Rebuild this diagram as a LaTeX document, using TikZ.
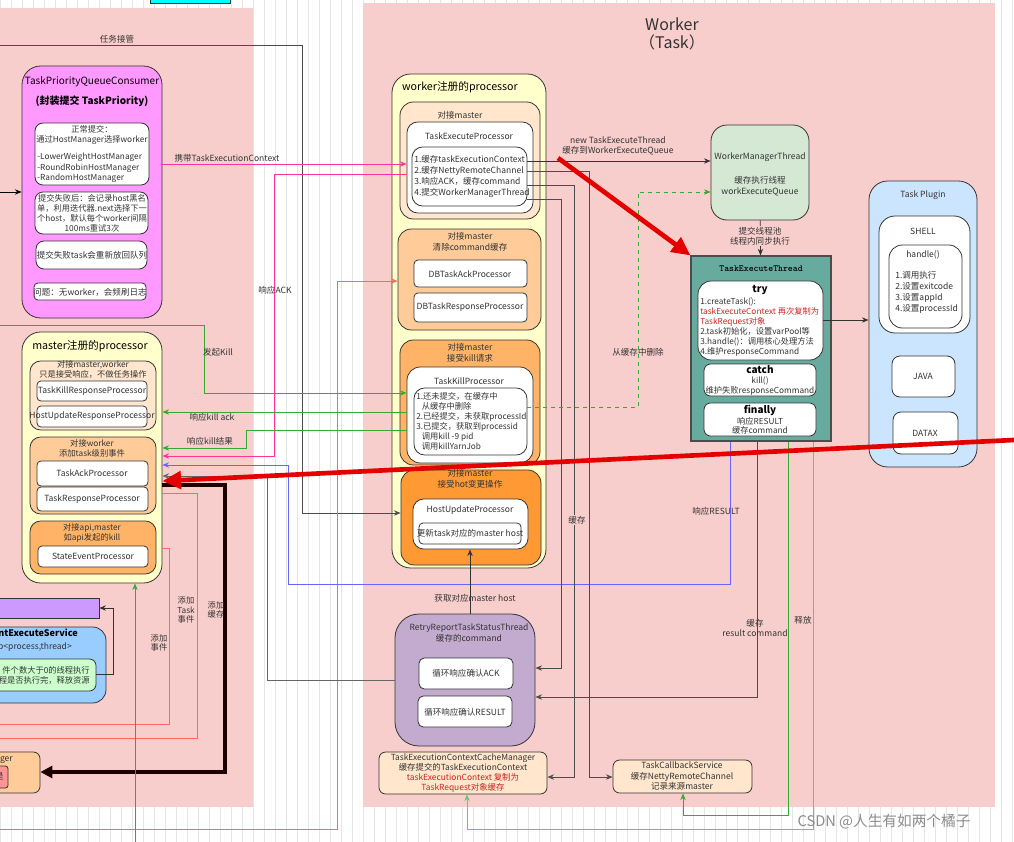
\documentclass[tikz,border=0pt]{standalone}
\usepackage{fontspec}
\setmainfont{Noto Sans CJK SC}
\usetikzlibrary{arrows.meta}
\definecolor{pbg}{HTML}{F8CECC}
\definecolor{mag}{HTML}{FF99FF}
\definecolor{yel}{HTML}{FFFFCC}
\definecolor{pea}{HTML}{FFE6CC}
\definecolor{orA}{HTML}{FFCC99}
\definecolor{orB}{HTML}{FFB366}
\definecolor{orC}{HTML}{FF9933}
\definecolor{grn}{HTML}{D5E8D4}
\definecolor{teal}{HTML}{67AB9F}
\definecolor{lbl}{HTML}{CCE5FF}
\definecolor{pur}{HTML}{C3ABD0}
\definecolor{lav}{HTML}{CC99FF}
\definecolor{skb}{HTML}{99CCFF}
\definecolor{lgr}{HTML}{CCFFCC}
\definecolor{tx}{HTML}{333333}
\definecolor{rl}{HTML}{FF6666}
\definecolor{pl}{HTML}{FF3399}
\definecolor{gl}{HTML}{33AA33}
\definecolor{bl}{HTML}{6666FF}
\definecolor{rt}{HTML}{CC2222}
\definecolor{cy}{HTML}{00FFFF}
\newcommand\bx[6]{\node[#6, minimum width={(#4-#2)*0.75pt}, minimum height={(#5-#3)*0.75pt}, inner sep=0pt] (#1) at ({(#2+#4)/2},{(#3+#5)/2}) {};}
\begin{document}
\begin{tikzpicture}[x=0.75pt,y=-0.75pt,
  font=\fontsize{6.4}{7.4}\selectfont,
  b/.style={draw=tx,rounded corners=6pt,fill=white,line width=0.6pt},
  t/.style={text=tx,align=center,inner sep=0pt},
  tl/.style={text=tx,align=left,inner sep=0pt,anchor=west},
  lab/.style={text=tx,align=center,inner sep=1pt,fill=none},
  ar/.style={-{Stealth[length=5pt,width=4pt]},line width=0.6pt},
  bigred/.style={draw=red!90!black,line width=3.5pt,-{Triangle[length=14pt,width=13pt]}}]
\useasboundingbox (0,0) rectangle (1014,842);
\fill[white] (0,0) rectangle (1014,842);
\draw[black!10,line width=0.3pt,step=11] (0,0) grid (1014,842);
\fill[pbg] (0,8) rectangle (253,807);
\fill[pbg] (363,3) rectangle (995,807);
\fill[cy,draw=tx] (150,-6) rectangle (230,3);
\node[t,font=\fontsize{12}{14}\selectfont] (wt) at (672,34) {Worker\\（Task）};
% left side
\bx{tpq}{22}{66}{162}{318}{b,fill=mag,rounded corners=14pt}
\node[t,text=black,font=\fontsize{7.5}{9}\selectfont] (tpqa) at (92,82) {TaskPriorityQueueConsumer};
\node[t,text=black,font=\bfseries\fontsize{7.5}{9}\selectfont] (tpqb) at (92,101) {(封装提交 TaskPriority)};
\bx{tq1}{35}{123}{149}{185}{b}
\node[t,font=\fontsize{6.2}{7.2}\selectfont] at (92,135) {正常提交：\\通过HostManager选择worker};
\node[tl,font=\fontsize{6.2}{8}\selectfont] at (37,168) {-LowerWeightHostManager\\-RoundRobinHostManager\\-RandomHostManager};
\bx{tq2}{35}{192}{148}{234}{b}
\node[t,font=\fontsize{6.2}{7.5}\selectfont] at (92,213) {提交失败后：会记录host黑名\\单，利用迭代器.next选择下一\\个host，默认每个worker间隔\\100ms重试3次};
\bx{tq3}{36}{241}{147}{269}{b}
\node[t] at (92,255) {提交失败task会重新放回队列};
\bx{tq4}{34}{283}{146}{300}{b,rounded corners=3pt}
\node[t] at (90,292) {问题：无worker，会频刷日志};
\coordinate (lin) at (0,192);
\draw[ar] (lin) -- (tpq.west|-0,192);
% master processor
\bx{mp}{22}{332}{162}{583}{b,fill=yel,rounded corners=14pt}
\node[t,text=black,font=\fontsize{8}{9}\selectfont] at (90,346) {master注册的processor};
\bx{m1}{30}{361}{156}{430}{b,fill=pea,rounded corners=8pt}
\node[t,font=\fontsize{6.2}{7.5}\selectfont] at (93,369) {对接master,worker\\只是接受响应，不做任务操作};
\bx{tkr}{37}{381}{147}{401}{b,rounded corners=3pt}
\node[t] at (92,391) {TaskKillResponseProcessor};
\bx{hur}{37}{406}{147}{427}{b,rounded corners=3pt}
\node[t] at (92,416) {HostUpdateResponseProcessor};
\bx{m2}{30}{437}{156}{514}{b,fill=orA,rounded corners=8pt}
\node[t,font=\fontsize{6.2}{7.5}\selectfont] at (92,448) {对接worker\\添加task级别事件};
\bx{tap}{37}{461}{148}{486}{b,rounded corners=3pt}
\node[t] at (92,473) {TaskAckProcessor};
\bx{trp}{37}{487}{148}{511}{b,rounded corners=3pt}
\node[t] at (92,499) {TaskResponseProcessor};
\bx{m3}{30}{521}{156}{574}{b,fill=orB,rounded corners=8pt}
\node[t,font=\fontsize{6.2}{7.5}\selectfont] at (92,533) {对接api,master\\如api发起的kill};
\bx{sep}{38}{546}{148}{567}{b,rounded corners=3pt}
\node[t] at (93,556) {StateEventProcessor};
% bottom-left pieces
\bx{pb}{-10}{598}{99}{618}{draw=tx,fill=lav}
\bx{ees}{-20}{627}{106}{703}{b,fill=skb,rounded corners=10pt}
\node[t,text=black,font=\bfseries\fontsize{6.8}{8}\selectfont,anchor=east] at (78,633) {entExecuteService};
\node[t,anchor=east] at (72,647) {ap<process,thread>};
\bx{eg}{-20}{659}{96}{691}{b,fill=lgr,rounded corners=5pt}
\node[t,anchor=east,font=\fontsize{6.2}{7.5}\selectfont,align=right] at (90,675) {件个数大于0的线程执行\\程是否执行完，释放资源};
\draw[ar,draw=tx] (eg.east|-0,674) -- (113,674) -- (113,608) -- (pb.east|-0,608);
\bx{gm}{-20}{752}{40}{793}{b,fill=orA,rounded corners=5pt}
\node[t,anchor=east] at (13,760) {ger};
\bx{gmi}{-10}{766}{8}{788}{b,fill=rl!70,rounded corners=2pt}
\node[t,anchor=east] at (4,776) {是};
% worker processor
\bx{wp}{392}{74}{546}{568}{b,fill=yel,rounded corners=14pt}
\node[t,text=black,font=\fontsize{8}{9}\selectfont] at (460,87) {worker注册的processor};
\bx{w1}{400}{102}{540}{219}{b,fill=pea,rounded corners=10pt}
\node[t] at (460,115) {对接master};
\bx{tep}{407}{122}{533}{213}{b,rounded corners=8pt}
\node[t] at (469,136) {TaskExecuteProcessor};
\bx{tepi}{412}{147}{527}{206}{b,rounded corners=8pt}
\node[tl,font=\fontsize{6.4}{8.2}\selectfont] at (414,176.5) {1.缓存taskExecutionContext\\2.缓存NettyRemoteChannel\\3.响应ACK，缓存command\\4.提交WorkerManagerThread};
\bx{w2}{398}{229}{541}{330}{b,fill=orA,rounded corners=10pt}
\node[t,font=\fontsize{6.4}{8}\selectfont] at (470,242) {对接master\\清除command缓存};
\bx{dba}{414}{260}{527}{287}{b,rounded corners=3pt}
\node[t] at (470,274) {DBTaskAckProcessor};
\bx{dbr}{414}{293}{527}{322}{b,rounded corners=3pt}
\node[t] at (470,307) {DBTaskResponseProcessor};
\bx{w3}{400}{340}{540}{465}{b,fill=orB,rounded corners=10pt}
\node[t,font=\fontsize{6.4}{8}\selectfont] at (470,353) {对接master\\接受kill请求};
\bx{tkp}{407}{367}{533}{463}{b,rounded corners=10pt}
\node[t] at (469,381) {TaskKillProcessor};
\bx{tkpi}{414}{388}{527}{455}{b,rounded corners=8pt}
\node[tl,font=\fontsize{6.2}{7.6}\selectfont] at (416,421.5) {1.还未提交，在缓存中\\\ \ \ 从缓存中删除\\2.已经提交，未获取processId\\3.已提交，获取到processid\\\ \ \ 调用kill -9 pid\\\ \ \ 调用killYarnJob};
\bx{w4}{401}{470}{541}{565}{b,fill=orC,rounded corners=10pt}
\node[t,font=\fontsize{6.4}{8}\selectfont] at (470,479) {对接master\\接受hot变更操作};
\bx{hup}{413}{499}{528}{549}{b,rounded corners=8pt}
\node[t] at (470,510) {HostUpdateProcessor};
\bx{hupi}{419}{523}{521}{544}{b,rounded corners=3pt}
\node[t] at (470,533) {更新task对应的master host};
% worker manager thread
\bx{wmt}{711}{125}{809}{220}{b,fill=grn,rounded corners=12pt}
\node[t] at (760,157) {WorkerManagerThread};
\node[t,font=\fontsize{6.4}{8}\selectfont] at (760,186) {缓存执行线程\\workExecuteQueue};
% task execute thread
\bx{tet}{691}{256}{831}{441}{draw=black!70,fill=teal,line width=0.8pt}
\node[t,text=black,font=\ttfamily\bfseries\fontsize{7}{8}\selectfont] at (761,269) {TaskExecuteThread};
\bx{try}{698}{281}{823}{360}{b,rounded corners=10pt}
\node[t,text=black,font=\bfseries\fontsize{7.5}{8}\selectfont] at (760,290) {try};
\node[tl,font=\fontsize{6.2}{7.6}\selectfont] at (700,327) {1.createTask():\\\textcolor{rt}{taskExecuteContext 再次复制为}\\\textcolor{rt}{TaskRequest对象}\\2.task初始化，设置varPool等\\3.handle()：调用核心处理方法\\4.维护responseCommand};
\bx{cat}{704}{364}{816}{396}{b,rounded corners=5pt}
\node[t,text=black,font=\bfseries\fontsize{7.5}{8}\selectfont] at (760,370) {catch};
\node[t,font=\fontsize{6.2}{7.6}\selectfont] at (760,386) {kill()\\维护失败responseCommand};
\bx{fin}{704}{403}{816}{436}{b,rounded corners=5pt}
\node[t,text=black,font=\bfseries\fontsize{7.5}{8}\selectfont] at (760,410) {finally};
\node[t,font=\fontsize{6.2}{7}\selectfont] at (760,426) {响应RESULT\\缓存command};
% task plugin
\bx{tp}{869}{181}{977}{467}{b,fill=lbl,rounded corners=14pt}
\node[t] at (923,195) {Task Plugin};
\bx{sh}{879}{216}{970}{333}{b,rounded corners=12pt}
\node[t] at (923,231) {SHELL};
\bx{hd}{889}{245}{962}{328}{b,rounded corners=10pt}
\node[t] at (923,255) {handle()};
\node[tl,font=\fontsize{6.4}{8.3}\selectfont] at (895,292) {1.调用执行\\2.设置exitcode\\3.设置appId\\4.设置processId};
\bx{jv}{892}{356}{955}{397}{b,rounded corners=6pt}
\node[t] at (923,376) {JAVA};
\bx{dx}{893}{412}{958}{454}{b,rounded corners=6pt}
\node[t] at (925,433) {DATAX};
% retry / cache / callback
\bx{rr}{395}{614}{535}{746}{b,fill=pur,rounded corners=18pt}
\node[t,font=\fontsize{6.4}{7.6}\selectfont] at (469,633) {RetryReportTaskStatusThread\\缓存的command};
\bx{rra}{419}{658}{513}{689}{b,rounded corners=4pt}
\node[t] at (466,673) {循环响应确认ACK};
\bx{rrr}{418}{696}{512}{727}{b,rounded corners=4pt}
\node[t] at (465,712) {循环响应确认RESULT};
\bx{cm}{379}{752}{547}{794}{b,fill=pea,rounded corners=5pt}
\node[t,font=\fontsize{6.3}{7.4}\selectfont] at (463,773) {TaskExecutionContextCacheManager\\缓存提交的TaskExecutionContext\\\textcolor{rt}{taskExecutionContext 复制为}\\\textcolor{rt}{TaskRequest对象缓存}};
\bx{cb}{613}{760}{752}{793}{b,fill=pea,rounded corners=5pt}
\node[t,font=\fontsize{6.4}{8}\selectfont] at (682,776) {TaskCallbackService\\缓存NettyRemoteChannel\\记录来源master};
% connectors
\coordinate (c0) at (0,45);
\draw[ar,draw=black!70] (c0) -- (302,45) -- (302,513) -- (w4.west|-0,513);
\node[lab,fill=pbg] at (117,39) {任务接管};
\draw[ar,draw=pl] (tpq.east|-0,164) -- (tep.west|-0,164);
\node[lab] at (227,158) {携带TaskExecutionContext};
\draw[ar,draw=pl] (tep.west|-0,174) -- (274,174) -- (274,456) -- (mp.east|-0,456);
\node[lab] at (275,290) {响应ACK};
\coordinate (c1) at (0,829);
\draw[ar,draw=rl] (c1) -- (337,829) -- (337,281) -- (w2.west|-0,281);
\coordinate (c2) at (0,325);
\draw[ar,draw=gl] (c2) -- (204,325) -- (204,393) -- (tkp.west|-0,393);
\node[lab] at (218,352) {发起Kill};
\draw[ar,draw=gl] (tkp.west|-0,412) -- (mp.east|-0,412);
\node[lab] at (212,417) {响应kill ack};
\draw[ar,draw=gl] (tkp.west|-0,430) -- (246,430) -- (246,448) -- (mp.east|-0,448);
\node[lab] at (210,441) {响应kill结果};
\draw[ar,draw=bl] (tet.south-|730,0) -- (730,584) -- (288,584) -- (288,465) -- (mp.east|-0,465);
\draw[ar,draw=black!60] (rr.west|-0,680) -- (267,680) -- (267,476) -- (mp.east|-0,476);
\draw[-{Triangle[length=9pt,width=9pt]},draw=black!80!red!60!black,line width=2.6pt] (mp.east|-0,485) -- (225,485) -- (225,772) -- (gm.east|-0,772);
\coordinate (c3) at (0,738);
\draw[draw=rl,line width=0.7pt] (mp.east|-0,493) -- (197,493) -- (197,738) -- (c3);
\node[lab,font=\fontsize{6.2}{7}\selectfont] at (186,610) {添加\\Task\\事件};
\coordinate (c4) at (0,724);
\draw[draw=rl,line width=0.7pt] (mp.east|-0,548) -- (169,548) -- (169,724) -- (c4);
\node[lab,font=\fontsize{6.2}{7}\selectfont] at (159,643) {添加\\事件};
\node[lab,font=\fontsize{6.2}{7}\selectfont] at (216,610) {添加\\缓存};
\coordinate (c5) at (135,842);
\draw[ar,draw=gl] (c5) -- (mp.south-|135,0);
% worker lines
\draw[ar,draw=black!80] (tepi.east|-0,161) -- (wmt.west|-0,161);
\node[lab] at (618,146) {new TaskExecuteThread\\缓存到WorkerExecuteQueue};
\draw[ar,draw=black!70] (tepi.east|-0,171) -- (589,171) -- (589,777) -- (cb.west|-0,777);
\draw[ar,draw=black!70] (tepi.east|-0,185) -- (574,185) -- (574,777) -- (cm.east|-0,777);
\draw[ar,draw=black!70] (tepi.east|-0,199) -- (561,199) -- (561,668) -- (rr.east|-0,668);
\node[lab,fill=pbg] at (577,520) {缓存};
\draw[ar,draw=gl,dashed] (tkpi.east|-0,407) -- (638,407) -- (638,192) -- (wmt.west|-0,192);
\node[lab] at (638,352) {从缓存中删除};
\draw[ar,draw=black!80] (wmt) -- (tet);
\node[lab,fill=pbg] at (760,236) {提交线程池\\线程内同步执行};
\draw[ar,draw=black!80] (try.east|-0,320) -- (tp.west|-0,320);
\draw[ar,draw=black!70] (tet.south-|757,0) -- (757,697) -- (rr.east|-0,697);
\node[lab] at (755,628) {缓存\\result command};
\draw[ar,draw=gl] (tet.south-|788,0) -- (788,815) -- (683,815) -- (cb.south-|683,0);
\draw[ar,draw=gl!70] (tet.south-|813,0) -- (813,829) -- (467,829) -- (cm.south-|467,0);
\node[lab] at (803,620) {释放};
\draw[ar,draw=black!80] (rr.north-|470,0) -- (hup.south-|470,0);
\node[lab] at (475,598) {获取对应master host};
\node[lab] at (716,511) {响应RESULT};
% red annotation arrows
\coordinate (r1) at (558,158);
\coordinate (r2) at (1014,440);
\draw[bigred] (r1) -- (tet.north west);
\draw[bigred] (r2) -- (mp.east|-0,481);
\node[lab,text=black!45,font=\fontsize{11}{12}\selectfont] at (884,822) {CSDN @人生有如两个橘子};
\end{tikzpicture}
\end{document}
